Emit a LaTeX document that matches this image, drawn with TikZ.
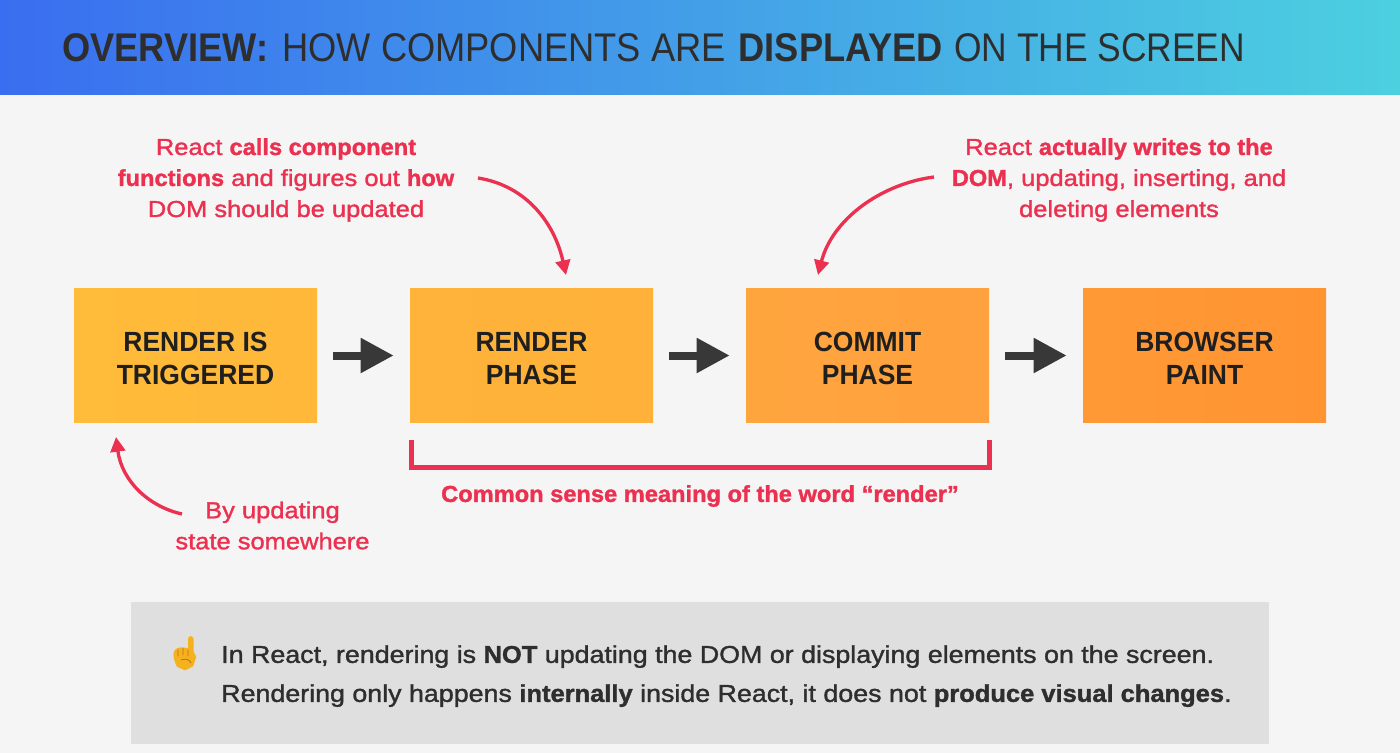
\documentclass[tikz,border=0pt]{standalone}
\usepackage{fontspec}
\usepackage{xcolor}
\setmainfont[BoldFont={Liberation Sans Bold},BoldFeatures={FakeStretch=0.955}]{Liberation Sans}
\newfontfamily\titlefont[FakeStretch=0.907,BoldFont={Liberation Sans Bold},BoldFeatures={FakeStretch=0.906}]{Liberation Sans}
\newfontfamily\titletail[FakeStretch=0.885]{Liberation Sans}
\newfontfamily\medfont[FakeBold=1.4,FakeStretch=1.105,BoldFont={Liberation Sans Bold},BoldFeatures={FakeStretch=1.025}]{Liberation Sans}
\newfontfamily\barfont[FakeBold=1.4,FakeStretch=1.105,BoldFont={Liberation Sans Bold},BoldFeatures={FakeStretch=1.05}]{Liberation Sans}
\usetikzlibrary{arrows.meta,calc}
\definecolor{redink}{HTML}{EB3050}
\definecolor{inkdark}{HTML}{1F1F1F}
\definecolor{inkgrey}{HTML}{2E2E2E}
\definecolor{arrowgrey}{HTML}{383838}
\definecolor{fistgold}{HTML}{F6B21E}
\definecolor{fistline}{HTML}{B9710F}
\newcommand{\phasetext}[2]{\raisebox{-9.75pt}[0pt][0pt]{\begin{tabular}{@{}c@{}}#1\\#2\end{tabular}}}
\tikzset{
  x=0.75pt,y=-0.75pt,
  phase/.style={minimum width=182.25pt,minimum height=100pt,inner sep=0pt,text=inkdark,
    font=\fontsize{20.8}{24.8}\selectfont\bfseries},
  flow/.style={draw=arrowgrey,line width=6pt,-{Triangle[length=24.75pt,width=24.75pt]},shorten <=12pt,shorten >=12pt},
  note/.style={text=redink,align=center,inner sep=0pt,font=\fontsize{17.3}{23.25}\selectfont\medfont},
  curve/.style={draw=redink,line width=2.5pt,-{Triangle[length=11pt,width=11pt]}},
}
\begin{document}
\begin{tikzpicture}
\useasboundingbox (0,0) rectangle (1400,753);
\fill[black!4] (0,0) rectangle (1400,753);
\fill[left color={rgb,255:red,58;green,110;blue,240},right color={rgb,255:red,76;green,208;blue,224}] (0,0) rectangle (1400,94);
\node[anchor=base west,inner sep=0pt,text=inkgrey,font=\fontsize{30}{36}\selectfont\titlefont] (title) at (62,61) {\textbf{OVERVIEW:}\kern3pt{} HOW COMPONENTS ARE \kern2pt\textbf{DISPLAYED} \kern1pt{\titletail ON THE SCREEN}};

\node[phase,left color={rgb,255:red,255;green,187;blue,58},right color={rgb,255:red,255;green,184;blue,58}] (trigger) at (195.5,355.5) {\phasetext{RENDER IS}{TRIGGERED}};
\node[phase,left color={rgb,255:red,255;green,179;blue,58},right color={rgb,255:red,255;green,177;blue,58}] (render) at (531.5,355.5) {\phasetext{RENDER}{PHASE}};
\node[phase,left color={rgb,255:red,255;green,165;blue,62},right color={rgb,255:red,255;green,161;blue,62}] (commit) at (867.5,355.5) {\phasetext{COMMIT}{PHASE}};
\node[phase,left color={rgb,255:red,255;green,153;blue,54},right color={rgb,255:red,255;green,148;blue,50}] (paint) at (1204.5,355.5) {\phasetext{BROWSER}{PAINT}};
\draw[flow] (trigger) -- (render);
\draw[flow] (render) -- (commit);
\draw[flow] (commit) -- (paint);

\node[note] (n1) at (286,180) {React \textbf{calls component}\\\textbf{functions} and figures out \textbf{how}\\DOM should be updated};
\node[note] (n2) at (1119,180) {React \textbf{actually writes to the}\\\textbf{DOM}, updating, inserting, and\\deleting elements};
\node[note] (n3) at (272.5,525.5) {By updating\\state somewhere};
\node[note] (n4) at (700,496) {\textbf{Common sense meaning of the word “render”}};

\coordinate (a1s) at (478,178); \coordinate (a1e) at (566,275);
\coordinate (a2s) at (934,177); \coordinate (a2e) at (818,275);
\coordinate (a3s) at (182,514); \coordinate (a3e) at (116,437);
\draw[curve] (a1s) .. controls (528,186) and (555,225) .. (a1e);
\draw[curve] (a2s) .. controls (880,184) and (832,220) .. (a2e);
\draw[curve] (a3s) .. controls (150,507) and (122,482) .. (a3e);

\coordinate (b1) at (411,440); \coordinate (b2) at (989,440);
\draw[redink,line width=3.75pt] (b1) |- (700,467.5) -| (b2);

\fill[black!12.5] (131,602) rectangle (1269,744);
% pointing hand
\fill[fistgold,rounded corners=2.2pt] (188,636) rectangle (193.5,660);
\fill[fistgold,rounded corners=5pt] (173,648) -- (188,647) -- (196,652) -- (196,662) -- (190,670) -- (180,670) -- (174,663) -- cycle;
\draw[fistline,line width=0.6pt,line cap=round] (178,650) -- (178,656) (183,648) -- (183,655) (188,650) -- (188,656) (181,660) .. controls (186,658) and (190,660) .. (191,663);
\node[anchor=north west,inner sep=0pt,align=left,text=inkgrey,font=\fontsize{18.2}{29.25}\selectfont\barfont] (txt) at (221,645) {In React, rendering is \textbf{NOT} updating the DOM or displaying elements on the screen.\\Rendering only happens \textbf{internally} inside React, it does not \textbf{produce visual changes}.};
\end{tikzpicture}
\end{document}
